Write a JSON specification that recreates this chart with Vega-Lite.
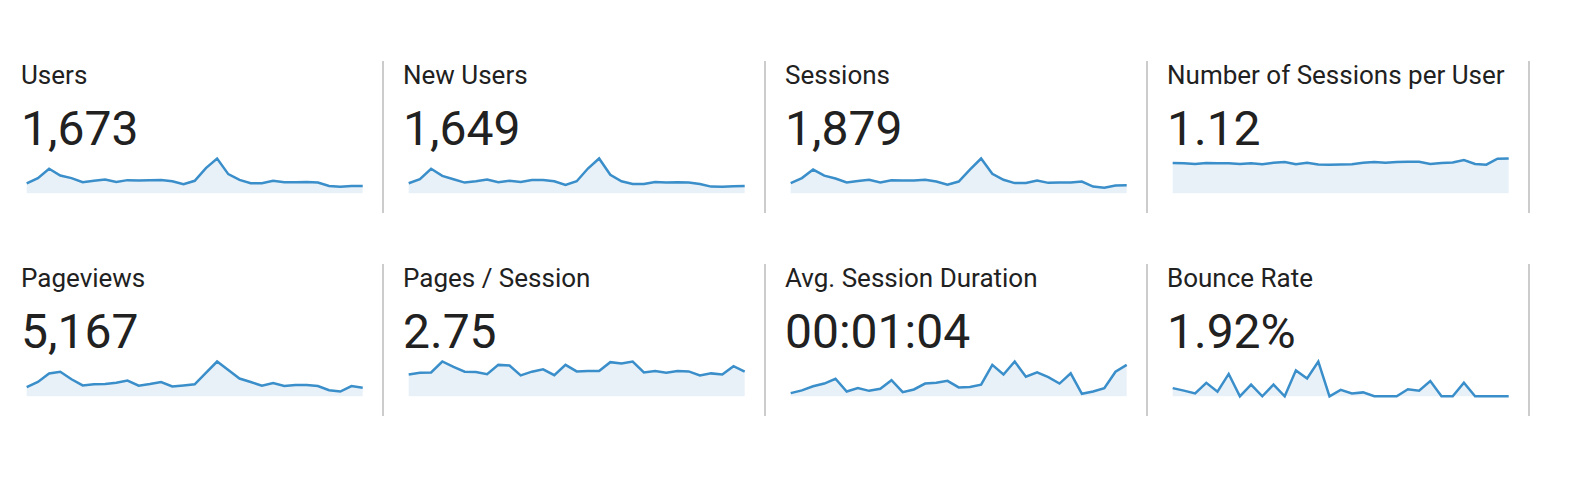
{
  "$schema": "https://vega.github.io/schema/vega-lite/v6.json",
  "background": "white",
  "padding": {"left": 21, "top": 60, "right": 0, "bottom": 0},
  "columns": 4,
  "spacing": {"row": 49, "column": 19},
  "datasets": {
    "users": [{"day":1,"value":45},{"day":2,"value":68},{"day":3,"value":110},{"day":4,"value":80},{"day":5,"value":68},{"day":6,"value":50},{"day":7,"value":56},{"day":8,"value":62},{"day":9,"value":51},{"day":10,"value":59},{"day":11,"value":57},{"day":12,"value":59},{"day":13,"value":60},{"day":14,"value":54},{"day":15,"value":41},{"day":16,"value":56},{"day":17,"value":113},{"day":18,"value":156},{"day":19,"value":86},{"day":20,"value":60},{"day":21,"value":45},{"day":22,"value":45},{"day":23,"value":56},{"day":24,"value":50},{"day":25,"value":50},{"day":26,"value":51},{"day":27,"value":48},{"day":28,"value":33},{"day":29,"value":29},{"day":30,"value":33},{"day":31,"value":33}],
    "newusers": [{"day":1,"value":45},{"day":2,"value":63},{"day":3,"value":110},{"day":4,"value":78},{"day":5,"value":63},{"day":6,"value":48},{"day":7,"value":54},{"day":8,"value":62},{"day":9,"value":50},{"day":10,"value":56},{"day":11,"value":51},{"day":12,"value":60},{"day":13,"value":60},{"day":14,"value":54},{"day":15,"value":38},{"day":16,"value":54},{"day":17,"value":111},{"day":18,"value":156},{"day":19,"value":83},{"day":20,"value":54},{"day":21,"value":42},{"day":22,"value":42},{"day":23,"value":51},{"day":24,"value":48},{"day":25,"value":50},{"day":26,"value":48},{"day":27,"value":42},{"day":28,"value":30},{"day":29,"value":29},{"day":30,"value":32},{"day":31,"value":33}],
    "sessions": [{"day":1,"value":47},{"day":2,"value":70},{"day":3,"value":109},{"day":4,"value":81},{"day":5,"value":68},{"day":6,"value":50},{"day":7,"value":57},{"day":8,"value":62},{"day":9,"value":50},{"day":10,"value":60},{"day":11,"value":59},{"day":12,"value":59},{"day":13,"value":62},{"day":14,"value":54},{"day":15,"value":39},{"day":16,"value":54},{"day":17,"value":109},{"day":18,"value":160},{"day":19,"value":90},{"day":20,"value":62},{"day":21,"value":47},{"day":22,"value":47},{"day":23,"value":59},{"day":24,"value":48},{"day":25,"value":50},{"day":26,"value":50},{"day":27,"value":54},{"day":28,"value":31},{"day":29,"value":26},{"day":30,"value":36},{"day":31,"value":37}],
    "spu": [{"day":1,"value":1.12},{"day":2,"value":1.11},{"day":3,"value":1.09},{"day":4,"value":1.12},{"day":5,"value":1.11},{"day":6,"value":1.11},{"day":7,"value":1.09},{"day":8,"value":1.11},{"day":9,"value":1.08},{"day":10,"value":1.13},{"day":11,"value":1.16},{"day":12,"value":1.08},{"day":13,"value":1.13},{"day":14,"value":1.07},{"day":15,"value":1.06},{"day":16,"value":1.07},{"day":17,"value":1.08},{"day":18,"value":1.13},{"day":19,"value":1.16},{"day":20,"value":1.13},{"day":21,"value":1.16},{"day":22,"value":1.17},{"day":23,"value":1.17},{"day":24,"value":1.09},{"day":25,"value":1.12},{"day":26,"value":1.14},{"day":27,"value":1.23},{"day":28,"value":1.09},{"day":29,"value":1.06},{"day":30,"value":1.28},{"day":31,"value":1.29}],
    "pageviews": [{"day":1,"value":108},{"day":2,"value":168},{"day":3,"value":268},{"day":4,"value":288},{"day":5,"value":200},{"day":6,"value":128},{"day":7,"value":140},{"day":8,"value":144},{"day":9,"value":160},{"day":10,"value":184},{"day":11,"value":124},{"day":12,"value":144},{"day":13,"value":168},{"day":14,"value":116},{"day":15,"value":128},{"day":16,"value":140},{"day":17,"value":276},{"day":18,"value":408},{"day":19,"value":308},{"day":20,"value":208},{"day":21,"value":168},{"day":22,"value":124},{"day":23,"value":156},{"day":24,"value":120},{"day":25,"value":132},{"day":26,"value":132},{"day":27,"value":120},{"day":28,"value":72},{"day":29,"value":56},{"day":30,"value":120},{"day":31,"value":100}],
    "pps": [{"day":1,"value":2.32},{"day":2,"value":2.5},{"day":3,"value":2.53},{"day":4,"value":3.69},{"day":5,"value":3.11},{"day":6,"value":2.61},{"day":7,"value":2.57},{"day":8,"value":2.35},{"day":9,"value":3.33},{"day":10,"value":3.26},{"day":11,"value":2.21},{"day":12,"value":2.61},{"day":13,"value":2.86},{"day":14,"value":2.24},{"day":15,"value":3.33},{"day":16,"value":2.64},{"day":17,"value":2.68},{"day":18,"value":2.68},{"day":19,"value":3.62},{"day":20,"value":3.48},{"day":21,"value":3.69},{"day":22,"value":2.53},{"day":23,"value":2.68},{"day":24,"value":2.5},{"day":25,"value":2.68},{"day":26,"value":2.64},{"day":27,"value":2.21},{"day":28,"value":2.43},{"day":29,"value":2.32},{"day":30,"value":3.19},{"day":31,"value":2.61}],
    "duration": [{"day":1,"value":14},{"day":2,"value":26},{"day":3,"value":44},{"day":4,"value":56},{"day":5,"value":77},{"day":6,"value":21},{"day":7,"value":36},{"day":8,"value":24},{"day":9,"value":33},{"day":10,"value":71},{"day":11,"value":18},{"day":12,"value":30},{"day":13,"value":56},{"day":14,"value":60},{"day":15,"value":68},{"day":16,"value":39},{"day":17,"value":41},{"day":18,"value":51},{"day":19,"value":138},{"day":20,"value":96},{"day":21,"value":153},{"day":22,"value":86},{"day":23,"value":105},{"day":24,"value":84},{"day":25,"value":56},{"day":26,"value":101},{"day":27,"value":11},{"day":28,"value":21},{"day":29,"value":36},{"day":30,"value":108},{"day":31,"value":138}],
    "bounce": [{"day":1,"value":2.3},{"day":2,"value":1.6},{"day":3,"value":0.8},{"day":4,"value":3.8},{"day":5,"value":1.3},{"day":6,"value":6.3},{"day":7,"value":0},{"day":8,"value":3.3},{"day":9,"value":0},{"day":10,"value":3.3},{"day":11,"value":0},{"day":12,"value":7.3},{"day":13,"value":5.0},{"day":14,"value":9.8},{"day":15,"value":0},{"day":16,"value":1.8},{"day":17,"value":0.8},{"day":18,"value":1.1},{"day":19,"value":0},{"day":20,"value":0},{"day":21,"value":0},{"day":22,"value":2.0},{"day":23,"value":1.6},{"day":24,"value":4.3},{"day":25,"value":0},{"day":26,"value":0},{"day":27,"value":3.8},{"day":28,"value":0},{"day":29,"value":0},{"day":30,"value":0},{"day":31,"value":0}]
  },
  "concat": [
    {"data": {"name": "users"}, "title": {"text": "Users", "subtitle": "1,673"}, "width": 362, "height": 152,
     "layer": [
      {"mark": {"type": "area", "color": "#e9f1f8", "opacity": 1, "line": {"color": "#3a8ec9", "strokeWidth": 2.5}},
       "encoding": {"x": {"field": "day", "type": "quantitative", "axis": null, "scale": {"domain": [1, 31], "range": [5.7, 341.7]}},
                    "y": {"field": "value", "type": "quantitative", "axis": null, "scale": {"zero": true, "nice": false, "range": [132.3, 97.5]}}}},
      {"transform": [{"aggregate": [{"op": "count", "as": "n"}]}], "mark": {"type": "rule", "color": "#cccccc", "strokeWidth": 2}, "encoding": {"x": {"value": "width"}}}
     ]},
    {"data": {"name": "newusers"}, "title": {"text": "New Users", "subtitle": "1,649"}, "width": 362, "height": 152,
     "layer": [
      {"mark": {"type": "area", "color": "#e9f1f8", "opacity": 1, "line": {"color": "#3a8ec9", "strokeWidth": 2.5}},
       "encoding": {"x": {"field": "day", "type": "quantitative", "axis": null, "scale": {"domain": [1, 31], "range": [5.7, 341.7]}},
                    "y": {"field": "value", "type": "quantitative", "axis": null, "scale": {"zero": true, "nice": false, "range": [132.3, 97.5]}}}},
      {"transform": [{"aggregate": [{"op": "count", "as": "n"}]}], "mark": {"type": "rule", "color": "#cccccc", "strokeWidth": 2}, "encoding": {"x": {"value": "width"}}}
     ]},
    {"data": {"name": "sessions"}, "title": {"text": "Sessions", "subtitle": "1,879"}, "width": 362, "height": 152,
     "layer": [
      {"mark": {"type": "area", "color": "#e9f1f8", "opacity": 1, "line": {"color": "#3a8ec9", "strokeWidth": 2.5}},
       "encoding": {"x": {"field": "day", "type": "quantitative", "axis": null, "scale": {"domain": [1, 31], "range": [5.7, 341.7]}},
                    "y": {"field": "value", "type": "quantitative", "axis": null, "scale": {"zero": true, "nice": false, "range": [132.3, 97.5]}}}},
      {"transform": [{"aggregate": [{"op": "count", "as": "n"}]}], "mark": {"type": "rule", "color": "#cccccc", "strokeWidth": 2}, "encoding": {"x": {"value": "width"}}}
     ]},
    {"data": {"name": "spu"}, "title": {"text": "Number of Sessions per User", "subtitle": "1.12"}, "width": 362, "height": 152,
     "layer": [
      {"mark": {"type": "area", "color": "#e9f1f8", "opacity": 1, "line": {"color": "#3a8ec9", "strokeWidth": 2.5}},
       "encoding": {"x": {"field": "day", "type": "quantitative", "axis": null, "scale": {"domain": [1, 31], "range": [5.7, 341.7]}},
                    "y": {"field": "value", "type": "quantitative", "axis": null, "scale": {"zero": true, "nice": false, "range": [132.3, 97.5]}}}},
      {"transform": [{"aggregate": [{"op": "count", "as": "n"}]}], "mark": {"type": "rule", "color": "#cccccc", "strokeWidth": 2}, "encoding": {"x": {"value": "width"}}}
     ]},
    {"data": {"name": "pageviews"}, "title": {"text": "Pageviews", "subtitle": "5,167"}, "width": 362, "height": 152,
     "layer": [
      {"mark": {"type": "area", "color": "#e9f1f8", "opacity": 1, "line": {"color": "#3a8ec9", "strokeWidth": 2.5}},
       "encoding": {"x": {"field": "day", "type": "quantitative", "axis": null, "scale": {"domain": [1, 31], "range": [5.7, 341.7]}},
                    "y": {"field": "value", "type": "quantitative", "axis": null, "scale": {"zero": true, "nice": false, "range": [132.3, 97.5]}}}},
      {"transform": [{"aggregate": [{"op": "count", "as": "n"}]}], "mark": {"type": "rule", "color": "#cccccc", "strokeWidth": 2}, "encoding": {"x": {"value": "width"}}}
     ]},
    {"data": {"name": "pps"}, "title": {"text": "Pages / Session", "subtitle": "2.75"}, "width": 362, "height": 152,
     "layer": [
      {"mark": {"type": "area", "color": "#e9f1f8", "opacity": 1, "line": {"color": "#3a8ec9", "strokeWidth": 2.5}},
       "encoding": {"x": {"field": "day", "type": "quantitative", "axis": null, "scale": {"domain": [1, 31], "range": [5.7, 341.7]}},
                    "y": {"field": "value", "type": "quantitative", "axis": null, "scale": {"zero": true, "nice": false, "range": [132.3, 97.5]}}}},
      {"transform": [{"aggregate": [{"op": "count", "as": "n"}]}], "mark": {"type": "rule", "color": "#cccccc", "strokeWidth": 2}, "encoding": {"x": {"value": "width"}}}
     ]},
    {"data": {"name": "duration"}, "title": {"text": "Avg. Session Duration", "subtitle": "00:01:04"}, "width": 362, "height": 152,
     "layer": [
      {"mark": {"type": "area", "color": "#e9f1f8", "opacity": 1, "line": {"color": "#3a8ec9", "strokeWidth": 2.5}},
       "encoding": {"x": {"field": "day", "type": "quantitative", "axis": null, "scale": {"domain": [1, 31], "range": [5.7, 341.7]}},
                    "y": {"field": "value", "type": "quantitative", "axis": null, "scale": {"zero": true, "nice": false, "range": [132.3, 97.5]}}}},
      {"transform": [{"aggregate": [{"op": "count", "as": "n"}]}], "mark": {"type": "rule", "color": "#cccccc", "strokeWidth": 2}, "encoding": {"x": {"value": "width"}}}
     ]},
    {"data": {"name": "bounce"}, "title": {"text": "Bounce Rate", "subtitle": "1.92%"}, "width": 362, "height": 152,
     "layer": [
      {"mark": {"type": "area", "color": "#e9f1f8", "opacity": 1, "line": {"color": "#3a8ec9", "strokeWidth": 2.5}},
       "encoding": {"x": {"field": "day", "type": "quantitative", "axis": null, "scale": {"domain": [1, 31], "range": [5.7, 341.7]}},
                    "y": {"field": "value", "type": "quantitative", "axis": null, "scale": {"zero": true, "nice": false, "range": [132.3, 97.5]}}}},
      {"transform": [{"aggregate": [{"op": "count", "as": "n"}]}], "mark": {"type": "rule", "color": "#cccccc", "strokeWidth": 2}, "encoding": {"x": {"value": "width"}}}
     ]}
  ],
  "config": {
    "view": {"stroke": null},
    "title": {"anchor": "start", "frame": "group", "font": "Roboto", "fontSize": 26, "fontWeight": 400, "color": "#212121",
              "subtitleFont": "Roboto", "subtitleFontSize": 48, "subtitleFontWeight": 400, "subtitleColor": "#212121",
              "subtitlePadding": 18, "offset": -94.6}
  }
}
